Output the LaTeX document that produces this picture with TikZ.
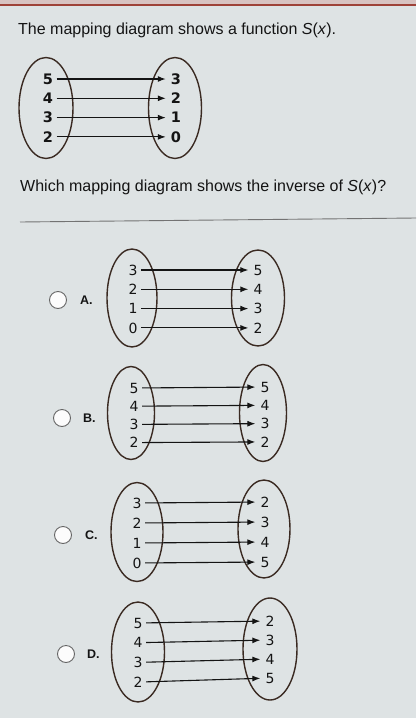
\documentclass[tikz,border=0pt]{standalone}
\usepackage{fontspec}
\setmainfont{Liberation Sans}
\newfontfamily\numfont{DejaVu Sans}
\usetikzlibrary{arrows.meta,shapes.geometric}

\definecolor{paper}{HTML}{DEE3E4}
\definecolor{topband}{HTML}{D8C3C1}
\definecolor{topline}{HTML}{9E4238}
\definecolor{rim}{HTML}{3A2A22}
\definecolor{ink}{HTML}{141414}

\tikzset{set/.style = {shape=ellipse, draw=rim, line width=1.4pt, inner sep=0pt}}
\tikzset{num/.style = {font=\numfont\fontsize{14}{15}\selectfont, text=ink, inner sep=2pt}}
\tikzset{bignum/.style = {num, font=\numfont\bfseries\fontsize{14.5}{15}\selectfont}}
\tikzset{map/.style = {-{Latex[length=8pt,width=6pt]}, draw=ink, line width=1.1pt,
                       shorten <=1.5pt, shorten >=3pt}}
\tikzset{radio/.style = {circle, draw=black!60, fill=white!90!paper, line width=0.9pt,
                         minimum size=17pt, inner sep=0pt}}
\tikzset{choice/.style = {font=\bfseries\fontsize{12.5}{13}\selectfont, text=ink, anchor=west, inner sep=0pt}}
\tikzset{line/.style = {font=\fontsize{16}{18}\selectfont, text=ink, anchor=base west, inner sep=0pt}}

\begin{document}
\begin{tikzpicture}[x=1pt, y=-1pt]
		\useasboundingbox (0,0) rectangle (416,718);
		\fill[paper] (0,0) rectangle (416,718);
		\fill[topband] (0,0) rectangle (416,5);
		\draw[topline, line width=1.5pt] (0,5) -- (416,5);
		% Question
		\node[line] (q1) at (18,34) {The mapping diagram shows a function \textit{S}(\textit{x}).};
		\node[line] (q2) at (20,191) {Which mapping diagram shows the inverse of \textit{S}(\textit{x})?};
		\draw[black!55, line width=0.9pt] (20,222) -- (416,218);
		% Function S(x)
		\node[set, minimum width=54pt, minimum height=101pt] (sl) at ( 46,108) {};
		\node[set, minimum width=53pt, minimum height=101pt] (sr) at (175,108) {};
		\foreach \v [count=\i] in {5,4,3,2}
			\node[bignum] (sl\i) at ( 48,{59.7+19.3*\i}) {\v};
		\foreach \v [count=\i] in {3,2,1,0}
			\node[bignum] (sr\i) at (176,{59.7+19.3*\i}) {\v};
		% Choice A
		\node[radio] (ra) at (58,300) {};
		\node[choice] (ca) at (80,300) {A.};
		\node[set, minimum width=50pt, minimum height=98pt] (al) at (132,298) {};
		\node[set, minimum width=53pt, minimum height=96pt] (ar) at (258,298) {};
		\foreach \v [count=\i] in {3,2,1,0}
			\node[num] (al\i) at (133,{250.7+19.3*\i}) {\v};
		\foreach \v [count=\i] in {5,4,3,2}
			\node[num] (ar\i) at (258,{250.7+19.3*\i}) {\v};
		% Choice B
		\node[radio] (rb) at (62,418) {};
		\node[choice] (cb) at (83,418) {B.};
		\node[set, minimum width=47pt, minimum height=93pt] (bl) at (131,413) {};
		\node[set, minimum width=47pt, minimum height=97pt] (br) at (263,413) {};
		\foreach \v [count=\i] in {5,4,3,2}
			\node[num] (bl\i) at (134,{369.8+18.2*\i}) {\v};
		\foreach \v [count=\i] in {5,4,3,2}
			\node[num] (br\i) at (265,{368.7+18.3*\i}) {\v};
		% Choice C
		\node[radio] (rc) at (63,535) {};
		\node[choice] (cc) at (85,535) {C.};
		\node[set, minimum width=52pt, minimum height=99pt] (cl) at (137,532) {};
		\node[set, minimum width=52pt, minimum height=98pt] (cr) at (264,529) {};
		\foreach \v [count=\i] in {3,2,1,0}
			\node[num] (cl\i) at (137,{483+20*\i}) {\v};
		\foreach \v [count=\i] in {2,3,4,5}
			\node[num] (cr\i) at (265,{482+20*\i}) {\v};
		% Choice D
		\node[radio] (rd) at (66,654) {};
		\node[choice] (cd) at (87,654) {D.};
		\node[set, minimum width=53pt, minimum height=100pt] (dl) at (138,652) {};
		\node[set, minimum width=54pt, minimum height=102pt] (dr) at (270,649) {};
		\foreach \v [count=\i] in {5,4,3,2}
			\node[num] (dl\i) at (138,{603.3+19.7*\i}) {\v};
		\foreach \v [count=\i] in {2,3,4,5}
			\node[num] (dr\i) at (270,{602+19*\i}) {\v};
		% Arrows
		\foreach \from/\to in {sl/sr, al/ar, bl/br, cl/cr, dl/dr}
			\foreach \i in {1,...,4}
				\draw[map] (\from\i) -- (\to\i);
\end{tikzpicture}
\end{document}
